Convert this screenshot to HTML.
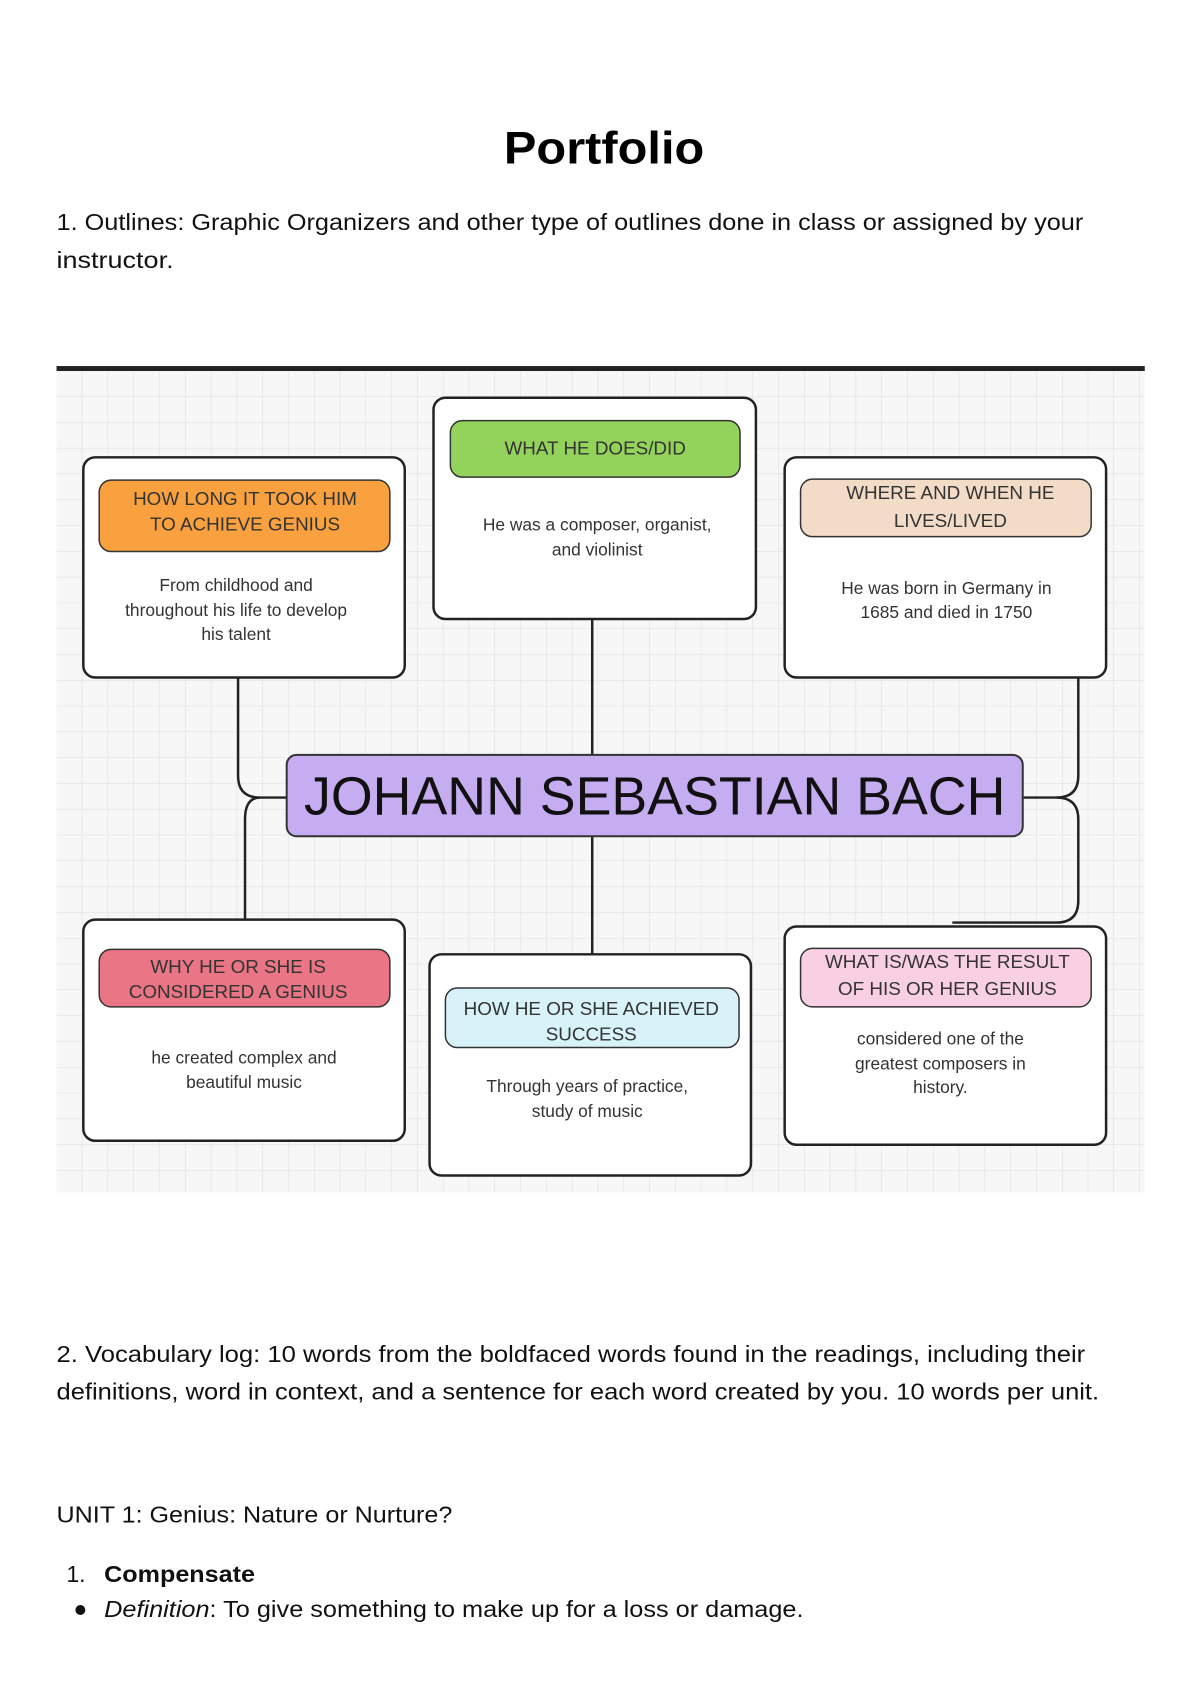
<!DOCTYPE html>
<html><head><meta charset="utf-8"><style>html,body{margin:0;padding:0;background:#fff}svg{display:block}</style></head>
<body>
<svg width="1200" height="1696" viewBox="0 0 1200 1696" xmlns="http://www.w3.org/2000/svg" font-family="Liberation Sans, sans-serif">
<defs>
<pattern id="g" x="57" y="374" width="26" height="26" patternUnits="userSpaceOnUse">
<path d="M26 0V26M0 26H26" fill="none" stroke="#dcdcdc" stroke-width="1"/>
</pattern>
</defs>
<rect width="1200" height="1696" fill="#fff"/>
<g transform="scale(0.992)">
<text x="609" y="165" font-size="46" font-weight="bold" text-anchor="middle" textLength="202" lengthAdjust="spacingAndGlyphs">Portfolio</text>
<text x="57" y="232" font-size="23" fill="#111" textLength="1035" lengthAdjust="spacingAndGlyphs">1. Outlines: Graphic Organizers and other type of outlines done in class or assigned by your</text>
<text x="57" y="270" font-size="23" fill="#111" textLength="118" lengthAdjust="spacingAndGlyphs">instructor.</text>

<rect x="57" y="374" width="1097" height="828" fill="#f7f7f7"/>
<rect x="57" y="374" width="1097" height="828" fill="url(#g)"/>
<rect x="57" y="369" width="1097" height="5" fill="#222"/>

<g fill="none" stroke="#222" stroke-width="2.5">
<path d="M597 624V761M597 843V962"/>
<path d="M240 683V782Q240 804 262 804H289"/>
<path d="M262 804Q247 804 247 826V927"/>
<path d="M1087 683V782Q1087 804 1065 804H1031"/>
<path d="M1065 804Q1087 804 1087 826V908Q1087 930 1065 930H960"/>
</g>

<g stroke="#222" stroke-width="2.5" fill="#fff">
<rect x="84" y="461" width="324" height="222" rx="12"/>
<rect x="437" y="401" width="325" height="223" rx="12"/>
<rect x="791" y="461" width="324" height="222" rx="12"/>
<rect x="84" y="927" width="324" height="223" rx="12"/>
<rect x="433" y="962" width="324" height="223" rx="12"/>
<rect x="791" y="934" width="324" height="220" rx="12"/>
</g>
<g stroke="#333" stroke-width="1.5">
<rect x="100" y="484" width="293" height="72" rx="12" fill="#f9a03f"/>
<rect x="454" y="424" width="292" height="57" rx="12" fill="#93d35b"/>
<rect x="807" y="483" width="293" height="58" rx="12" fill="#f2dcc7"/>
<rect x="100" y="957" width="293" height="58" rx="12" fill="#e97585"/>
<rect x="449" y="996" width="296" height="60" rx="12" fill="#d7f3f9"/>
<rect x="807" y="956" width="293" height="59" rx="12" fill="#f8cfe3"/>
</g>
<rect x="289" y="761" width="742" height="82" rx="10" fill="#c6adf2" stroke="#333" stroke-width="2"/>
<text x="660" y="821" font-size="54" text-anchor="middle" fill="#111" textLength="707" lengthAdjust="spacingAndGlyphs">JOHANN SEBASTIAN BACH</text>

<g font-size="19" fill="#333" text-anchor="middle">
<text x="247" y="509">HOW LONG IT TOOK HIM</text>
<text x="247" y="535">TO ACHIEVE GENIUS</text>
<text x="600" y="458">WHAT HE DOES/DID</text>
<text x="958" y="503">WHERE AND WHEN HE</text>
<text x="958" y="531">LIVES/LIVED</text>
<text x="240" y="981">WHY HE OR SHE IS</text>
<text x="240" y="1006">CONSIDERED A GENIUS</text>
<text x="596" y="1023">HOW HE OR SHE ACHIEVED</text>
<text x="596" y="1049">SUCCESS</text>
<text x="955" y="976">WHAT IS/WAS THE RESULT</text>
<text x="955" y="1003">OF HIS OR HER GENIUS</text>
</g>
<g font-size="17.5" fill="#333" text-anchor="middle">
<text x="238" y="596">From childhood and</text>
<text x="238" y="621">throughout his life to develop</text>
<text x="238" y="645">his talent</text>
<text x="602" y="535">He was a composer, organist,</text>
<text x="602" y="560">and violinist</text>
<text x="954" y="599">He was born in Germany in</text>
<text x="954" y="623">1685 and died in 1750</text>
<text x="246" y="1072">he created complex and</text>
<text x="246" y="1097">beautiful music</text>
<text x="592" y="1101">Through years of practice,</text>
<text x="592" y="1126">study of music</text>
<text x="948" y="1053">considered one of the</text>
<text x="948" y="1078">greatest composers in</text>
<text x="948" y="1102">history.</text>
</g>

<g font-size="23" fill="#111">
<text x="57" y="1373" textLength="1037" lengthAdjust="spacingAndGlyphs">2. Vocabulary log: 10 words from the boldfaced words found in the readings, including their</text>
<text x="57" y="1411" textLength="1051" lengthAdjust="spacingAndGlyphs">definitions, word in context, and a sentence for each word created by you. 10 words per unit.</text>
<text x="57" y="1535" textLength="399" lengthAdjust="spacingAndGlyphs">UNIT 1: Genius: Nature or Nurture?</text>
<text x="67" y="1595">1.</text>
<text x="105" y="1595" font-weight="bold" textLength="152" lengthAdjust="spacingAndGlyphs">Compensate</text>
<circle cx="81" cy="1623" r="5" fill="#111"/>
<text x="105" y="1630" textLength="705" lengthAdjust="spacingAndGlyphs"><tspan font-style="italic">Definition</tspan>: To give something to make up for a loss or damage.</text>
</g>
</g>
</svg>
</body></html>
